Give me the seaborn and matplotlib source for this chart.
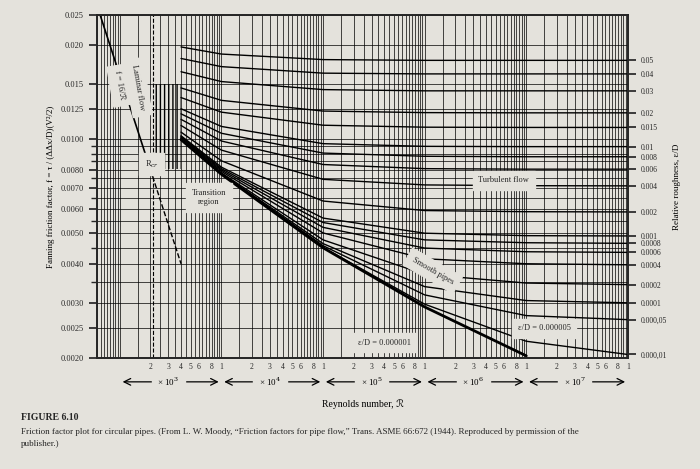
import numpy as np
import pandas as pd
import matplotlib
matplotlib.use("Agg")
import matplotlib.pyplot as plt
import matplotlib.transforms as mtrans
import seaborn as sns
from matplotlib.ticker import FixedLocator, NullFormatter, LogLocator

sns.set_theme(style="white")
plt.rcParams['font.family'] = ['Liberation Serif', 'DejaVu Sans']
plt.rcParams['mathtext.fontset'] = 'dejavuserif'

re_pts = [4e3, 1e4, 1e5, 1e6, 1e7, 1e8]
roughness = ["0.05", "0.04", "0.03", "0.02", "0.015", "0.01", "0.008", "0.006", "0.004",
             "0.002", "0.001", "0.0008", "0.0006", "0.0004", "0.0002", "0.0001",
             "0.000,05", "0.000,01"]
f_curves = [
    [0.01976, 0.01875, 0.0180, 0.0179, 0.0179, 0.0179],
    [0.01815, 0.01709, 0.01629, 0.0162, 0.0162, 0.0162],
    [0.01646, 0.01531, 0.01443, 0.0143, 0.0143, 0.0143],
    [0.01461, 0.01333, 0.01232, 0.01218, 0.01216, 0.01216],
    [0.01361, 0.01222, 0.0111, 0.01094, 0.01092, 0.01092],
    [0.01253, 0.0110, 0.00969, 0.0095, 0.00948, 0.00948],
    [0.01207, 0.01046, 0.00904, 0.00883, 0.0088, 0.0088],
    [0.01159, 0.00988, 0.00831, 0.00806, 0.00803, 0.00803],
    [0.01108, 0.00924, 0.00745, 0.00715, 0.00711, 0.0071],
    [0.01055, 0.00854, 0.00635, 0.00592, 0.00587, 0.00586],
    [0.01027, 0.00815, 0.0056, 0.00501, 0.00492, 0.00491],
    [0.01021, 0.00806, 0.00542, 0.00477, 0.00467, 0.00465],
    [0.01015, 0.00798, 0.00523, 0.00449, 0.00437, 0.00435],
    [0.01009, 0.0079, 0.00502, 0.00415, 0.0040, 0.00397],
    [0.01003, 0.00781, 0.00477, 0.0037, 0.00347, 0.00343],
    [0.01001, 0.00777, 0.00464, 0.00338, 0.00305, 0.0030],
    [0.0100, 0.00775, 0.00457, 0.00318, 0.00273, 0.00265],
    [0.00999, 0.00774, 0.00451, 0.00297, 0.00226, 0.00205],
]
smooth_re = [4e3, 1e4, 1e5, 1e6, 1e7]
smooth_f = [0.00998, 0.00773, 0.0045, 0.00291, 0.00203]
lam_re = [600, 2100]
lam_f = [16 / 600, 16 / 2100]
lam_dash_re = [2100, 4000]
lam_dash_f = [16 / 2100, 16 / 4000]
yticks = [0.0020, 0.0025, 0.0030, 0.0040, 0.0050, 0.0060, 0.0070, 0.0080,
          0.0100, 0.0125, 0.015, 0.020, 0.025]
ytick_labels = ["0.0020", "0.0025", "0.0030", "0.0040", "0.0050", "0.0060", "0.0070",
                "0.0080", "0.0100", "0.0125", "0.015", "0.020", "0.025"]

bg = "#e4e2dc"
fig = plt.figure(figsize=(7, 4.69), dpi=100, facecolor=bg)
ax = fig.add_axes([0.139, 0.237, 0.758, 0.731], facecolor=bg)

rows = []
for lab, fs in zip(roughness, f_curves):
    for r, f in zip(re_pts, fs):
        rows.append({"Re": r, "f": f, "eps": lab})
df = pd.DataFrame(rows)
sns.lineplot(data=df, x="Re", y="f", units="eps", estimator=None, color="black",
             lw=1.0, ax=ax, legend=False)
sns.lineplot(x=smooth_re, y=smooth_f, color="black", lw=2.0, ax=ax)
sns.lineplot(x=lam_re, y=lam_f, color="black", lw=1.2, ax=ax)
sns.lineplot(x=lam_dash_re, y=lam_dash_f, color="black", lw=1.0, ls="--", ax=ax)

ax.set_xscale("log")
ax.set_yscale("log")
ax.set_xlim(600, 1e8)
ax.set_ylim(0.002, 0.025)
ax.axvspan(2100, 4000, ymin=0.55, ymax=0.8, facecolor="none", edgecolor="black",
           hatch="||||", lw=0)
ax.axvline(2100, color="black", ls="--", lw=0.8)

ax.yaxis.set_major_locator(FixedLocator(yticks))
ax.set_yticklabels(ytick_labels, fontsize=6)
ax.yaxis.set_minor_locator(LogLocator(base=10, subs=np.arange(1.0, 10.0, 0.5)))
ax.yaxis.set_minor_formatter(NullFormatter())
ax.xaxis.set_minor_locator(LogLocator(base=10, subs=np.arange(1.0, 10.0, 0.5), numticks=30))
ax.grid(True, which="both", color="black", lw=0.5)
ax.tick_params(axis="x", which="both", labelsize=6, length=0)
ax.xaxis.set_major_formatter(NullFormatter())
ax.xaxis.set_minor_formatter(NullFormatter())
tr = mtrans.blended_transform_factory(ax.transData, ax.transAxes)
for d in [1e3, 1e4, 1e5, 1e6, 1e7]:
    for m, s in zip([2, 3, 4, 5, 6, 8, 10], ["2", "3", "4", "5", "6", "8", "1"]):
        ax.text(m * d, -0.015, s, ha="center", va="top", fontsize=5.5, transform=tr)
    ax.annotate("", xy=(d, -0.07), xytext=(d * 10, -0.07), xycoords=tr, textcoords=tr,
                arrowprops=dict(arrowstyle="<->", lw=0.9, color="black"), annotation_clip=False)
    ax.text(d * 3.0, -0.07, "× 10$^{%d}$" % int(np.log10(d)), ha="center",
            va="center", fontsize=6.5, backgroundcolor=bg, transform=tr, color="black")
ax.set_xlabel("Reynolds number, ℛ", fontsize=7, labelpad=26, color="black")
ax.set_ylabel("Fanning friction factor, f = τ / (ΔΔx/D)(V²/2)", fontsize=6.5, color="black")

ax2 = ax.twinx()
ax2.set_yscale("log")
ax2.set_ylim(0.002, 0.025)
ax2.yaxis.set_major_locator(FixedLocator([c[-1] for c in f_curves]))
ax2.set_yticklabels(roughness, fontsize=5.5)
ax2.yaxis.set_minor_locator(FixedLocator([]))
ax2.set_ylabel("Relative roughness, ε/D", fontsize=6.5, color="black")

ax.text(1500, 0.0125, "Laminar flow", rotation=-80, fontsize=6, ha="center", backgroundcolor=bg)
ax.text(1000, 0.0135, "f = 16/ℛ", rotation=-80, fontsize=6, ha="center", backgroundcolor=bg)
ax.text(1750, 0.0082, "R$_{cr}$", fontsize=6, backgroundcolor=bg)
ax.text(7500, 0.0062, "Transition\nregion", fontsize=6, ha="center", backgroundcolor=bg)
ax.text(6e6, 0.0073, "Turbulent flow", fontsize=6, ha="center", backgroundcolor=bg)
ax.text(1.2e6, 0.00345, "Smooth pipes", fontsize=6, rotation=-30, ha="center", backgroundcolor=bg)
ax.text(4e5, 0.0022, "ε/D = 0.000001", fontsize=6, ha="center", backgroundcolor=bg)
ax.text(1.5e7, 0.00245, "ε/D = 0.000005", fontsize=6, ha="center", backgroundcolor=bg)

fig.text(0.03, 0.105, "FIGURE 6.10", fontsize=7, weight="bold")
fig.text(0.03, 0.075, "Friction factor plot for circular pipes. (From L. W. Moody, \u201cFriction factors for pipe flow,\u201d "
         "Trans. ASME 66:672 (1944). Reproduced by permission of the", fontsize=6.5)
fig.text(0.03, 0.048, "publisher.)", fontsize=6.5)

fig.savefig("out.png", dpi=100, facecolor=bg)
